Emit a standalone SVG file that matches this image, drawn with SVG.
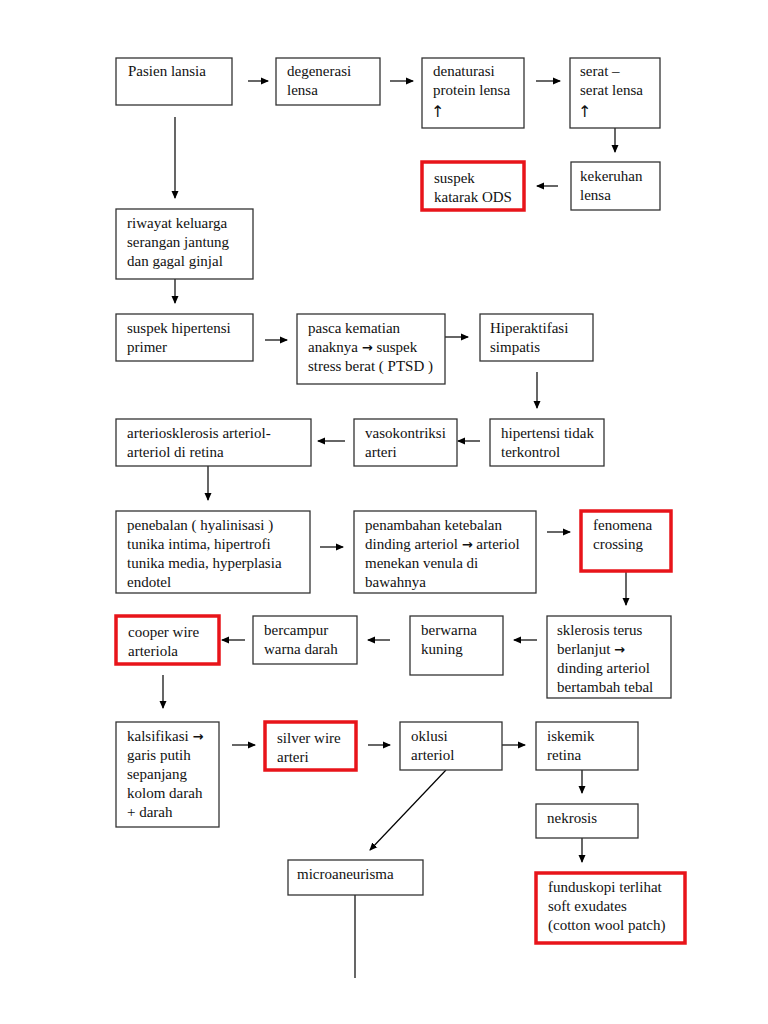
<svg xmlns="http://www.w3.org/2000/svg" width="768" height="1024" viewBox="0 0 768 1024">
<defs>
<marker id="ah" markerWidth="8" markerHeight="8" refX="7" refY="4" orient="auto" markerUnits="userSpaceOnUse">
<path d="M0,0.5 L8,4 L0,7.5 Z" fill="#000"/>
</marker>
<style>
.b{fill:#fff;stroke:#333;stroke-width:1.3}
.r{fill:#fff;stroke:#e8141a;stroke-width:3.5}
text{font-family:'Liberation Serif','DejaVu Serif',serif;font-size:15px;fill:#111}
.ar{font-family:'DejaVu Sans',sans-serif;font-size:13px;font-weight:bold;fill:#111}
.up{font-family:'DejaVu Sans',sans-serif;font-size:16px;fill:#111}
.c line{stroke:#000;stroke-width:1.2}
.a{marker-end:url(#ah)}
</style>
</defs>
<rect width="768" height="1024" fill="#fff"/>
<g class="c">
<line class="a" x1="248" y1="81" x2="268" y2="81"/>
<line class="a" x1="390" y1="81" x2="413" y2="81"/>
<line class="a" x1="536" y1="81" x2="560" y2="81"/>
<line class="a" x1="615" y1="128" x2="615" y2="152"/>
<line class="a" x1="558" y1="186" x2="537" y2="186"/>
<line class="a" x1="175" y1="117" x2="175" y2="198"/>
<line class="a" x1="175" y1="279" x2="175" y2="303"/>
<line class="a" x1="265" y1="340" x2="287" y2="340"/>
<line class="a" x1="445" y1="337" x2="468" y2="337"/>
<line class="a" x1="537" y1="372" x2="537" y2="408"/>
<line class="a" x1="480" y1="441" x2="458" y2="441"/>
<line class="a" x1="345" y1="441" x2="318" y2="441"/>
<line class="a" x1="208" y1="466" x2="208" y2="500"/>
<line class="a" x1="320" y1="547" x2="343" y2="547"/>
<line class="a" x1="547" y1="532" x2="570" y2="532"/>
<line class="a" x1="626" y1="571" x2="626" y2="605"/>
<line class="a" x1="537" y1="640" x2="514" y2="640"/>
<line class="a" x1="390" y1="640" x2="368" y2="640"/>
<line class="a" x1="245" y1="640" x2="222" y2="640"/>
<line class="a" x1="163" y1="675" x2="163" y2="708"/>
<line class="a" x1="232" y1="745" x2="255" y2="745"/>
<line class="a" x1="368" y1="745" x2="390" y2="745"/>
<line class="a" x1="502" y1="745" x2="525" y2="745"/>
<line class="a" x1="582" y1="770" x2="582" y2="793"/>
<line class="a" x1="582" y1="838" x2="582" y2="862"/>
<line class="a" x1="446" y1="770" x2="370" y2="850"/>
<line x1="355" y1="895" x2="355" y2="978"/>
</g>
<g id="n1"><rect class="b" x="116" y="58" width="116" height="47"/><text x="128" y="76">Pasien lansia</text></g>
<g id="n2"><rect class="b" x="276" y="58" width="104" height="47"/><text x="287" y="76">degenerasi</text><text x="287" y="95">lensa</text></g>
<g id="n3"><rect class="b" x="422" y="58" width="102" height="70"/><text x="433" y="76">denaturasi</text><text x="433" y="95">protein lensa</text><text class="up" x="431" y="117">↑</text></g>
<g id="n4"><rect class="b" x="570" y="58" width="90" height="70"/><text x="580" y="76">serat –</text><text x="580" y="95">serat lensa</text><text class="up" x="578" y="117">↑</text></g>
<g id="n5"><rect class="b" x="571" y="162" width="89" height="48"/><text x="580" y="181">kekeruhan</text><text x="580" y="200">lensa</text></g>
<g id="n6"><rect class="r" x="422" y="162" width="102" height="48"/><text x="434" y="183">suspek</text><text x="434" y="202">katarak ODS</text></g>
<g id="n7"><rect class="b" x="116" y="209" width="137" height="70"/><text x="127" y="228">riwayat keluarga</text><text x="127" y="247">serangan jantung</text><text x="127" y="266">dan gagal ginjal</text></g>
<g id="n8"><rect class="b" x="116" y="314" width="137" height="47"/><text x="127" y="333">suspek hipertensi</text><text x="127" y="352">primer</text></g>
<g id="n9"><rect class="b" x="297" y="314" width="148" height="70"/><text x="308" y="333">pasca kematian</text><text x="308" y="352">anaknya <tspan class="ar">→</tspan> suspek</text><text x="308" y="371">stress berat ( PTSD )</text></g>
<g id="n10"><rect class="b" x="480" y="314" width="113" height="47"/><text x="490" y="333">Hiperaktifasi</text><text x="490" y="352">simpatis</text></g>
<g id="n11"><rect class="b" x="490" y="419" width="114" height="47"/><text x="501" y="438">hipertensi tidak</text><text x="501" y="457">terkontrol</text></g>
<g id="n12"><rect class="b" x="354" y="419" width="103" height="47"/><text x="365" y="438">vasokontriksi</text><text x="365" y="457">arteri</text></g>
<g id="n13"><rect class="b" x="116" y="419" width="195" height="47"/><text x="127" y="438">arteriosklerosis arteriol-</text><text x="127" y="457">arteriol di retina</text></g>
<g id="n14"><rect class="b" x="116" y="511" width="194" height="82"/><text x="127" y="530">penebalan ( hyalinisasi )</text><text x="127" y="549">tunika intima, hipertrofi</text><text x="127" y="568">tunika media, hyperplasia</text><text x="127" y="587">endotel</text></g>
<g id="n15"><rect class="b" x="354" y="511" width="182" height="82"/><text x="365" y="530">penambahan ketebalan</text><text x="365" y="549">dinding arteriol <tspan class="ar">→</tspan> arteriol</text><text x="365" y="568">menekan venula di</text><text x="365" y="587">bawahnya</text></g>
<g id="n16"><rect class="r" x="581" y="511" width="90" height="60"/><text x="593" y="530">fenomena</text><text x="593" y="549">crossing</text></g>
<g id="n17"><rect class="b" x="547" y="616" width="124" height="82"/><text x="557" y="635">sklerosis terus</text><text x="557" y="654">berlanjut <tspan class="ar">→</tspan></text><text x="557" y="673">dinding arteriol</text><text x="557" y="692">bertambah tebal</text></g>
<g id="n18"><rect class="b" x="410" y="616" width="93" height="59"/><text x="421" y="635">berwarna</text><text x="421" y="654">kuning</text></g>
<g id="n19"><rect class="b" x="253" y="616" width="104" height="48"/><text x="264" y="635">bercampur</text><text x="264" y="654">warna darah</text></g>
<g id="n20"><rect class="r" x="116" y="616" width="103" height="48"/><text x="128" y="637">cooper wire</text><text x="128" y="656">arteriola</text></g>
<g id="n21"><rect class="b" x="116" y="722" width="103" height="105"/><text x="127" y="741">kalsifikasi <tspan class="ar">→</tspan></text><text x="127" y="760">garis putih</text><text x="127" y="779">sepanjang</text><text x="127" y="798">kolom darah</text><text x="127" y="817">+ darah</text></g>
<g id="n22"><rect class="r" x="265" y="722" width="91" height="48"/><text x="277" y="743">silver wire</text><text x="277" y="762">arteri</text></g>
<g id="n23"><rect class="b" x="400" y="722" width="102" height="48"/><text x="411" y="741">oklusi</text><text x="411" y="760">arteriol</text></g>
<g id="n24"><rect class="b" x="536" y="722" width="102" height="48"/><text x="547" y="741">iskemik</text><text x="547" y="760">retina</text></g>
<g id="n25"><rect class="b" x="536" y="804" width="102" height="34"/><text x="547" y="823">nekrosis</text></g>
<g id="n26"><rect class="r" x="536" y="873" width="149" height="70"/><text x="548" y="892">funduskopi terlihat</text><text x="548" y="911">soft exudates</text><text x="548" y="930">(cotton wool patch)</text></g>
<g id="n27"><rect class="b" x="288" y="860" width="135" height="35"/><text x="297" y="879">microaneurisma</text></g>
</svg>
